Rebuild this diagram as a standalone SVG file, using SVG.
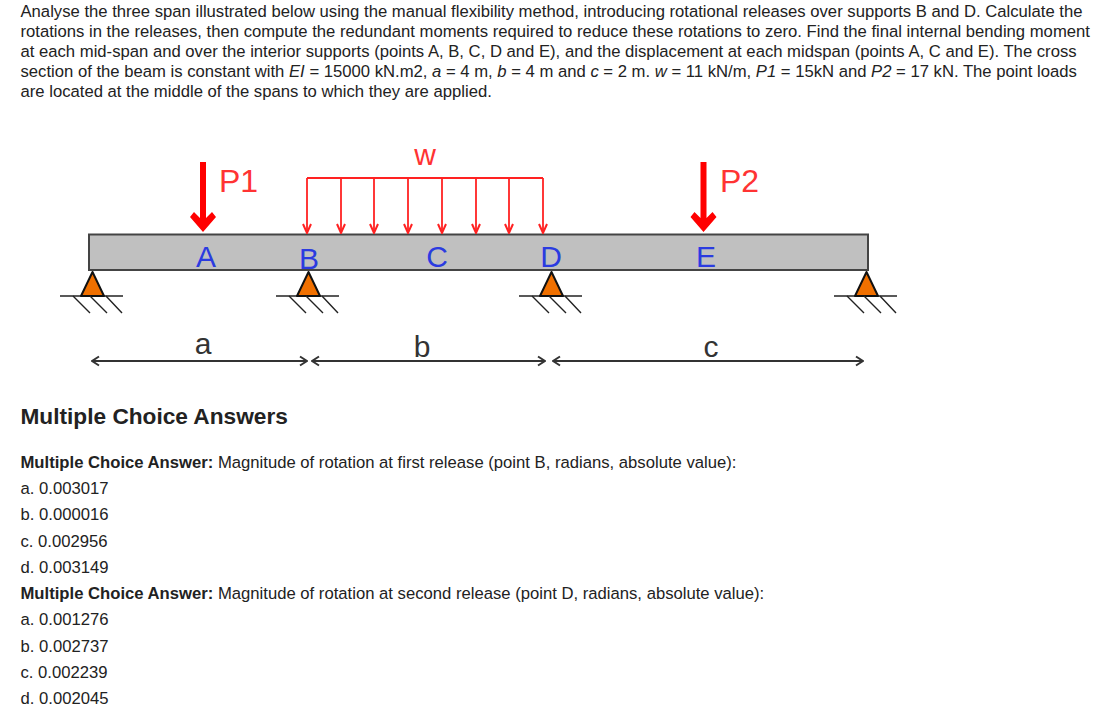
<svg xmlns="http://www.w3.org/2000/svg" width="1097" height="712" viewBox="0 0 1097 712">
<style>
text{font-family:"Liberation Sans",Arial,sans-serif;fill:#222}
.p{font-size:16.67px}
.h{font-size:22.67px;font-weight:bold}
.lr{font-size:30px;fill:#f33}
.lp{font-size:32px;fill:#f33}
.lb{font-size:30px;fill:#2b3be0}
.ld{font-size:30px;fill:#333}
.g{stroke:#222;stroke-width:1.4;fill:none}
.tri{fill:#f07000;stroke:#111;stroke-width:2;stroke-linejoin:round}
.udl{stroke:#f22;stroke-width:1.8;fill:none}
.big{fill:#f00;stroke:none}
.dim{stroke:#333;stroke-width:2;fill:none}
</style>
<defs>
<g id="sup">
<line class="g" x1="-32" y1="24" x2="31" y2="24"/>
<path class="tri" d="M0.500 0L12 24H-11Z"/>
<path class="g" d="M-19 24L-2 41M-2 24L15 41M14 24L30 41"/>
</g>
<path id="load" class="big" d="M-3 -70H3V-14L9 -20L13 -15L0 0L-13 -15L-9 -20L-3 -14Z"/>
<marker id="open" viewBox="0 0 10 12" refX="9" refY="6" markerWidth="10" markerHeight="12" markerUnits="userSpaceOnUse" orient="auto-start-reverse"><path d="M2 1.500L9 6L2 10.500" fill="none" stroke="#333" stroke-width="2"/></marker>
<marker id="red" viewBox="0 0 10 12" refX="5" refY="11" markerWidth="10" markerHeight="12" markerUnits="userSpaceOnUse"><path d="M1 2L5 11L9 2" fill="none" stroke="#f22" stroke-width="2"/></marker>
</defs>
<rect width="1097" height="712" fill="#fff"/>
<g id="statement">
<text class="p" x="20.500" y="17">Analyse the three span illustrated below using the manual flexibility method, introducing rotational releases over supports B and D. Calculate the</text>
<text class="p" x="20.500" y="37">rotations in the releases, then compute the redundant moments required to reduce these rotations to zero. Find the final internal bending moment</text>
<text class="p" x="20.500" y="57">at each mid-span and over the interior supports (points A, B, C, D and E), and the displacement at each midspan (points A, C and E). The cross</text>
<text class="p" x="20.500" y="77">section of the beam is constant with <tspan font-style="italic">EI</tspan> = 15000 kN.m2, <tspan font-style="italic">a</tspan> = 4 m, <tspan font-style="italic">b</tspan> = 4 m and <tspan font-style="italic">c</tspan> = 2 m. <tspan font-style="italic">w</tspan> = 11 kN/m, <tspan font-style="italic">P1</tspan> = 15kN and <tspan font-style="italic">P2</tspan> = 17 kN. The point loads</text>
<text class="p" x="20.500" y="97">are located at the middle of the spans to which they are applied.</text>
</g>
<g id="beam"><rect x="89" y="234.500" width="779" height="35.500" fill="#c0c0c0" stroke="#444" stroke-width="2"/></g>
<g id="supports">
<use id="support-1" href="#sup" x="92" y="272"/>
<use id="support-2" href="#sup" x="308" y="272"/>
<use id="support-3" href="#sup" x="551" y="272"/>
<use id="support-4" href="#sup" x="866" y="272"/>
</g>
<g id="connectors">
<path class="udl" d="M307 178H543"/>
<path class="udl" marker-end="url(#red)" d="M307 178V233"/>
<path class="udl" marker-end="url(#red)" d="M341 178V233"/>
<path class="udl" marker-end="url(#red)" d="M374 178V233"/>
<path class="udl" marker-end="url(#red)" d="M408 178V233"/>
<path class="udl" marker-end="url(#red)" d="M442 178V233"/>
<path class="udl" marker-end="url(#red)" d="M476 178V233"/>
<path class="udl" marker-end="url(#red)" d="M509 178V233"/>
<path class="udl" marker-end="url(#red)" d="M543 178V233"/>
<use href="#load" x="203" y="232"/>
<use href="#load" x="703.500" y="232"/>
<line class="dim" marker-start="url(#open)" marker-end="url(#open)" x1="92" y1="361" x2="307" y2="361"/>
<line class="dim" marker-start="url(#open)" marker-end="url(#open)" x1="312" y1="361" x2="545" y2="361"/>
<line class="dim" marker-start="url(#open)" marker-end="url(#open)" x1="553" y1="361" x2="863" y2="361"/>
</g>
<g id="label-P1"><text class="lp" x="219" y="192">P1</text></g>
<g id="label-P2"><text class="lp" x="720" y="192">P2</text></g>
<g id="label-w"><text class="lr" x="425" y="165" text-anchor="middle">w</text></g>
<g id="node-A"><text class="lb" x="206" y="267" text-anchor="middle">A</text></g>
<g id="node-B"><text class="lb" x="309" y="269" text-anchor="middle">B</text></g>
<g id="node-C"><text class="lb" x="437" y="267" text-anchor="middle">C</text></g>
<g id="node-D"><text class="lb" x="551" y="267" text-anchor="middle">D</text></g>
<g id="node-E"><text class="lb" x="706" y="267" text-anchor="middle">E</text></g>
<g id="label-a"><text class="ld" x="203" y="354" text-anchor="middle">a</text></g>
<g id="label-b"><text class="ld" x="422" y="357" text-anchor="middle">b</text></g>
<g id="label-c"><text class="ld" x="711" y="357" text-anchor="middle">c</text></g>
<g id="answers">
<text class="h" x="20.500" y="424">Multiple Choice Answers</text>
<text class="p" x="20.500" y="468"><tspan font-weight="bold">Multiple Choice Answer:</tspan> Magnitude of rotation at first release (point B, radians, absolute value):</text>
<text class="p" x="20.500" y="494">a. 0.003017</text>
<text class="p" x="20.500" y="520">b. 0.000016</text>
<text class="p" x="20.500" y="547">c. 0.002956</text>
<text class="p" x="20.500" y="573">d. 0.003149</text>
<text class="p" x="20.500" y="599"><tspan font-weight="bold">Multiple Choice Answer:</tspan> Magnitude of rotation at second release (point D, radians, absolute value):</text>
<text class="p" x="20.500" y="625">a. 0.001276</text>
<text class="p" x="20.500" y="652">b. 0.002737</text>
<text class="p" x="20.500" y="678">c. 0.002239</text>
<text class="p" x="20.500" y="704">d. 0.002045</text>
</g>
</svg>
